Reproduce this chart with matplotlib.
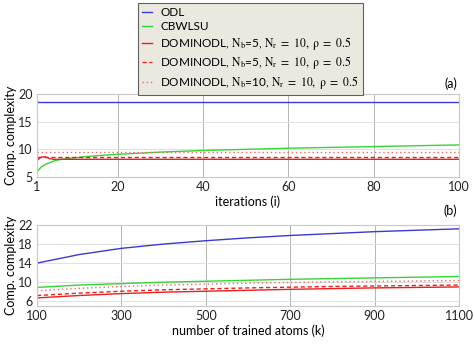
import matplotlib
matplotlib.use("Agg")
import matplotlib.pyplot as plt
import numpy as np

plt.rcParams['font.family'] = ['Lato', 'DejaVu Sans']
plt.rcParams['mathtext.fontset'] = 'stix'

# ---- panel (a): vs iterations ----
iters = [1, 2, 3, 4, 5, 6, 8, 10, 12, 15, 20, 25, 30, 40, 50, 60, 70, 80, 90, 100]
odl_a = [18.6] * len(iters)
cbw_a = [6.0, 6.8, 7.3, 7.6, 7.9, 8.1, 8.3, 8.5, 8.65, 8.85, 9.1, 9.3, 9.5, 9.8, 10.0, 10.2, 10.35, 10.5, 10.65, 10.8]
dom1_a = [8.0, 8.6, 8.65, 8.3, 8.2, 8.2, 8.2, 8.2, 8.2, 8.2, 8.2, 8.2, 8.2, 8.2, 8.2, 8.2, 8.2, 8.2, 8.2, 8.2]
dom2_a = [8.7] * len(iters)
dom3_a = [9.6] * len(iters)

# ---- panel (b): vs number of atoms ----
atoms = [100, 200, 300, 400, 500, 600, 700, 800, 900, 1000, 1100]
odl_b = [14.0, 15.8, 17.1, 18.0, 18.7, 19.3, 19.8, 20.2, 20.6, 20.9, 21.2]
cbw_b = [8.9, 9.4, 9.7, 10.0, 10.2, 10.4, 10.6, 10.75, 10.9, 11.05, 11.2]
dom1_b = [6.7, 7.2, 7.6, 7.9, 8.1, 8.3, 8.5, 8.65, 8.8, 8.9, 9.0]
dom2_b = [7.2, 7.7, 8.1, 8.4, 8.6, 8.8, 8.95, 9.1, 9.2, 9.3, 9.4]
dom3_b = [8.2, 8.7, 9.1, 9.4, 9.6, 9.8, 9.95, 10.05, 10.15, 10.25, 10.35]

labels = ['ODL', 'CBWLSU',
          r'DOMINODL, $\mathrm{N_b}$=5, $\mathrm{N_r\ =\ 10,\ \rho\ =\ 0.5}$',
          r'DOMINODL, $\mathrm{N_b}$=5, $\mathrm{N_r\ =\ 10,\ \rho\ =\ 0.5}$',
          r'DOMINODL, $\mathrm{N_b}$=10, $\mathrm{N_r\ =\ 10,\ \rho\ =\ 0.5}$']

c_blue = '#3a3ad0'
c_green = '#33d633'
c_red = '#e82020'
c_pink = '#ee6a6a'

W, H = 474, 354
fig = plt.figure(figsize=(W / 100, H / 100), dpi=100)

def ax_rect(x0, y0, x1, y1):
    return [x0 / W, 1 - y1 / H, (x1 - x0) / W, (y1 - y0) / H]

ax1 = fig.add_axes(ax_rect(37, 94, 459, 177))
ax2 = fig.add_axes(ax_rect(37, 225, 459, 306))

fs = 9

def style(ax):
    ax.set_axisbelow(True)
    for s in ax.spines.values():
        s.set_color('#c8c8c8')
        s.set_linewidth(0.8)
    ax.tick_params(axis='both', length=0, labelsize=fs, pad=3, colors='#222222')
    ax.xaxis.grid(True, color='#b4b4b4', lw=0.7)
    ax.yaxis.grid(True, color='#e0e0e0', lw=0.7)

lw = 1.0
h = []
h += ax1.plot(iters, odl_a, color=c_blue, lw=lw)
h += ax1.plot(iters, cbw_a, color=c_green, lw=lw)
h += ax1.plot(iters, dom1_a, color=c_red, lw=lw)
h += ax1.plot(iters, dom2_a, color=c_red, lw=lw, ls=(0, (3, 2)))
h += ax1.plot(iters, dom3_a, color=c_pink, lw=lw, ls=(0, (1, 2)))
ax1.set_xlim(1, 100)
ax1.set_ylim(5, 20)
ax1.set_xticks([1, 20, 40, 60, 80, 100])
ax1.set_yticks([5, 10, 15, 20])
style(ax1)
ax1.set_xlabel('iterations (i)', fontsize=fs, labelpad=2)
ax1.set_ylabel('Comp. complexity', fontsize=fs, labelpad=1)

ax2.plot(atoms, odl_b, color=c_blue, lw=lw)
ax2.plot(atoms, cbw_b, color=c_green, lw=lw)
ax2.plot(atoms, dom1_b, color=c_red, lw=lw)
ax2.plot(atoms, dom2_b, color=c_red, lw=lw, ls=(0, (3, 2)))
ax2.plot(atoms, dom3_b, color=c_pink, lw=lw, ls=(0, (1, 2)))
ax2.set_xlim(100, 1100)
ax2.set_ylim(5, 22)
ax2.set_xticks([100, 300, 500, 700, 900, 1100])
ax2.set_yticks([6, 10, 14, 18, 22])
style(ax2)
ax2.set_xlabel('number of trained atoms (k)', fontsize=fs, labelpad=2)
ax2.set_ylabel('Comp. complexity', fontsize=fs, labelpad=1)

fig.text(457 / W, 1 - 84 / H, '(a)', fontsize=fs, ha='right', va='center')
fig.text(457 / W, 1 - 211 / H, '(b)', fontsize=fs, ha='right', va='center')

leg = fig.legend(h, labels, loc='upper left', bbox_to_anchor=(136 / W, 1 - 1 / H),
                 fontsize=8.5, frameon=True, fancybox=False, handlelength=0.8,
                 handletextpad=0.7, labelspacing=0.22, borderpad=0.35,
                 borderaxespad=0.2)
leg.get_frame().set_facecolor('#ebe8df')
leg.get_frame().set_edgecolor('#606060')
leg.get_frame().set_linewidth(0.8)
leg.get_frame().set_alpha(1)

fig.savefig('out.png', dpi=100)
